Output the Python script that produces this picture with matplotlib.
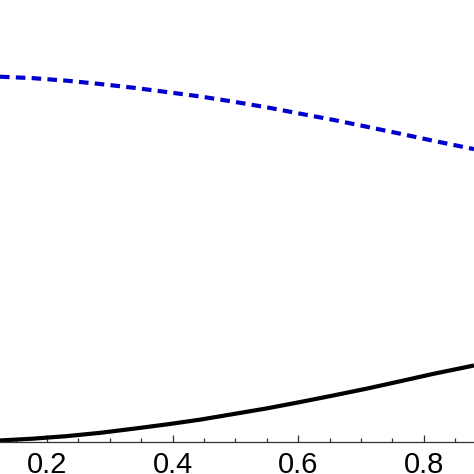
import matplotlib.pyplot as plt
import numpy as np

plt.rcParams['font.family'] = ['Liberation Sans', 'DejaVu Sans']

# values
x = [0.125, 0.178, 0.232, 0.285, 0.337, 0.391, 0.444, 0.496,
     0.551, 0.603, 0.656, 0.710, 0.763, 0.815, 0.869, 0.880]
y_blue = [0.997, 0.993, 0.986, 0.977, 0.967, 0.955, 0.943, 0.929,
          0.913, 0.896, 0.879, 0.860, 0.841, 0.822, 0.803, 0.799]
y_black = [0.003, 0.008, 0.015, 0.024, 0.035, 0.047, 0.060, 0.075,
           0.091, 0.108, 0.126, 0.145, 0.165, 0.185, 0.204, 0.208]
xticks = [0.2, 0.4, 0.6, 0.8]

fig = plt.figure(figsize=(4.74, 4.74), dpi=100)
ax = fig.add_axes([0, 0.0684, 1, 0.9316])

ax.plot(x, y_blue, color='#0000cc', lw=3, dashes=(2.3, 1.5))
ax.plot(x, y_black, color='black', lw=3, solid_capstyle='butt')

ax.set_xlim(0.125, 0.880)
ax.set_ylim(0, 1.2066)
for s in ['top', 'right', 'left']:
    ax.spines[s].set_visible(False)
ax.spines['bottom'].set_color('#333333')
ax.spines['bottom'].set_linewidth(0.9)
ax.set_yticks([])
ax.set_xticks(xticks)
ax.set_xticklabels([str(t) for t in xticks])
ax.set_xticks(np.arange(0.15, 0.88, 0.05), minor=True)
ax.tick_params(axis='x', which='major', direction='in', length=5, width=0.9,
               color='#333333', labelsize=21, pad=7)
ax.tick_params(axis='x', which='minor', direction='in', length=3, width=0.9,
               color='#333333')
ax.patch.set_visible(False)

fig.savefig('out.png', dpi=100)
